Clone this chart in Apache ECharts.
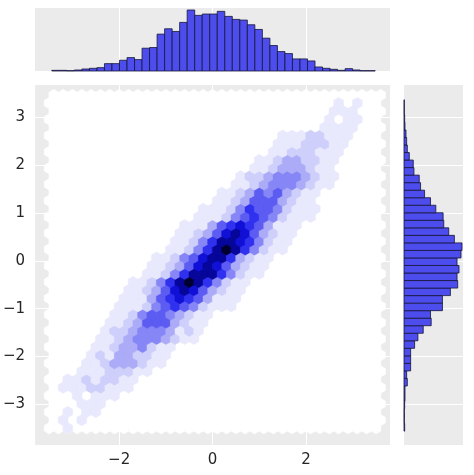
<!DOCTYPE html>
<html><head><meta charset="utf-8">
<script src="https://cdn.jsdelivr.net/npm/echarts@6/dist/echarts.min.js"></script>
<style>html,body{margin:0;padding:0;background:#fff}#c{width:474px;height:475px}</style>
</head><body><div id="c"></div>
<script>
// Hexbin cells: [row, startColumn, levels string] (levels 0-9)
const hexRows = [
 [0,2,"1"],[1,1,"101"],[2,2,"1011"],[3,3,"111"],[4,3,"10111"],
 [5,1,"11122111"],[6,2,"11212211"],[7,3,"11122211"],
 [8,4,"112333211"],[9,4,"121332211"],[10,5,"112334211"],
 [11,5,"11234443211"],[12,6,"12234443121"],[13,6,"11235553211"],[14,7,"11245543211"],
 [15,7,"1112456542111"],[16,8,"1113567653111"],[17,8,"1123578753211"],
 [18,9,"1124689864211"],[19,10,"1124688864211"],[20,11,"1123578753211"],
 [21,11,"1124578863211"],[22,13,"1124689864211"],[23,13,"1124688764211"],
 [24,14,"1123578753211"],[25,14,"1113567653111"],[26,16,"1112456542111"],
 [27,16,"1112465542111"],[28,18,"11235553211"],[29,18,"11235453211"],
 [30,20,"11234443211"],[31,20,"12234443211"],[32,22,"112333211"],[33,22,"112332211"],
 [34,24,"11222111"],[35,24,"11122211"],[36,25,"11122111"],
 [37,29,"1111"],[38,30,"1011"],[39,30,"111"],[40,31,"101"]
];
const hexGrid = {x0:-3.5, y0:-3.5, dx:0.2, dy:0.17, cols:36, rows:42};
const levelColors = ['#ffffff','#e9e9fd','#cfcffb','#ababf8','#8686f6','#5c5cf3','#3030ef','#1010d6','#06069a','#000030'];

const topStart = -3.44, topWidth = 0.161;
const topCounts = [2,2,1,3,6,8,10,22,22,32,40,34,68,70,110,126,118,145,182,166,170,170,178,163,154,152,138,124,98,76,58,52,36,36,30,12,8,5,2,7,3,1,1];
const rightStart = -3.56, rightWidth = 0.1575;
const rightCounts = [2,1,1,2,3,3,10,8,20,20,20,32,42,58,82,80,116,116,140,162,160,166,160,172,175,152,135,120,118,96,80,62,50,46,30,28,16,10,8,6,3,2,1,1];

const xTicks = [-2,0,2];
const yTicks = [-3,-2,-1,0,1,2,3];

const fmt = v => String(v).replace('-', '\u2212');
const bg = '#ebebeb';

// build hex data
const hexAll = [];
for (let r = 0; r < hexGrid.rows; r++) for (let c = 0; c < hexGrid.cols; c++)
  hexAll.push([hexGrid.x0 + c*hexGrid.dx + (r%2 ? hexGrid.dx/2 : 0), hexGrid.y0 + r*hexGrid.dy, 0]);
const hexFilled = [];
hexRows.forEach(([r, s, str]) => {
  for (let i = 0; i < str.length; i++) {
    const L = +str[i]; if (!L) continue;
    const c = s + i;
    hexFilled.push([hexGrid.x0 + c*hexGrid.dx + (r%2 ? hexGrid.dx/2 : 0), hexGrid.y0 + r*hexGrid.dy, L]);
  }
});
function hexItem(params, api) {
  const p = api.coord([api.value(0), api.value(1)]);
  const w = api.size([hexGrid.dx, 0])[0];
  const R = w / Math.sqrt(3) + 0.3;
  const pts = [];
  for (let k = 0; k < 6; k++) { const a = Math.PI/6 + k*Math.PI/3; pts.push([p[0] + R*Math.cos(a), p[1] + R*Math.sin(a)]); }
  const col = levelColors[api.value(2)];
  return {type:'polygon', shape:{points:pts}, style:{fill:col, stroke:col, lineWidth:0.4}};
}
const topData = topCounts.map((v,i) => [topStart + i*topWidth, topStart + (i+1)*topWidth, v]);
const rightData = rightCounts.map((v,i) => [rightStart + i*rightWidth, rightStart + (i+1)*rightWidth, v]);
const barStyle = {fill:'#4d4dee', stroke:'#15153a', lineWidth:0.8};

const labelStyle = {color:'#262626', fontSize:15, fontFamily:'DejaVu Sans'};
const splitW = {show:true, lineStyle:{color:'#ffffff', width:1}};

const chart = echarts.init(document.getElementById('c'));
chart.setOption({
  animation:false,
  grid:[
    {left:35, top:85, width:355, height:360, show:true, backgroundColor:bg, borderWidth:0},
    {left:35, top:8, width:355, height:63, show:true, backgroundColor:bg, borderWidth:0},
    {left:404, top:85, width:59, height:360, show:true, backgroundColor:bg, borderWidth:0}
  ],
  xAxis:[
    {gridIndex:0, type:'value', min:-3.8, max:3.8, axisLine:{show:false}, axisTick:{show:false, customValues:xTicks},
     axisLabel:{...labelStyle, customValues:xTicks, formatter:fmt, margin:8}, splitLine:splitW},
    {gridIndex:1, type:'value', min:-3.8, max:3.8, axisLine:{show:false}, axisTick:{show:false, customValues:xTicks},
     axisLabel:{show:false, customValues:xTicks}, splitLine:splitW},
    {gridIndex:2, type:'value', min:0, max:178, axisLine:{show:false}, axisTick:{show:false}, axisLabel:{show:false}, splitLine:{show:false}}
  ],
  yAxis:[
    {gridIndex:0, type:'value', min:-3.85, max:3.68, axisLine:{show:false}, axisTick:{show:false, customValues:yTicks},
     axisLabel:{...labelStyle, customValues:yTicks, formatter:fmt, margin:10}, splitLine:splitW},
    {gridIndex:1, type:'value', min:0, max:188, axisLine:{show:false}, axisTick:{show:false}, axisLabel:{show:false}, splitLine:{show:false}},
    {gridIndex:2, type:'value', min:-3.85, max:3.68, axisLine:{show:false}, axisTick:{show:false, customValues:yTicks},
     axisLabel:{show:false, customValues:yTicks}, splitLine:splitW}
  ],
  series:[
    {type:'custom', xAxisIndex:0, yAxisIndex:0, data:hexAll, renderItem:hexItem, clip:false, silent:true},
    {type:'custom', xAxisIndex:0, yAxisIndex:0, data:hexFilled, renderItem:hexItem, clip:false, silent:true},
    {type:'custom', xAxisIndex:1, yAxisIndex:1, data:topData, silent:true, renderItem:(p,api)=>{
      const a = api.coord([api.value(0), api.value(2)]), b = api.coord([api.value(1), 0]);
      return {type:'rect', shape:{x:a[0], y:a[1], width:b[0]-a[0], height:b[1]-a[1]}, style:barStyle};
    }},
    {type:'custom', xAxisIndex:2, yAxisIndex:2, data:rightData, silent:true, renderItem:(p,api)=>{
      const a = api.coord([0, api.value(1)]), b = api.coord([api.value(2), api.value(0)]);
      return {type:'rect', shape:{x:a[0], y:a[1], width:b[0]-a[0], height:b[1]-a[1]}, style:barStyle};
    }}
  ]
});
</script></body></html>
